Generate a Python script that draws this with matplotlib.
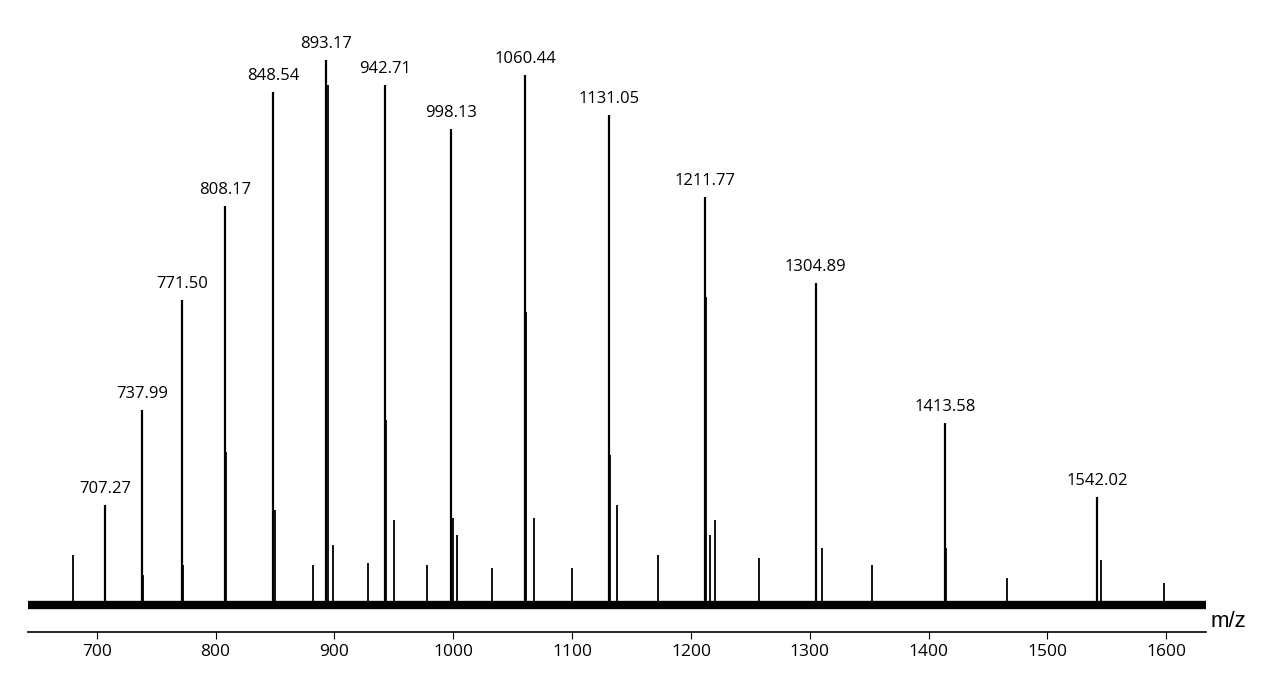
import matplotlib
matplotlib.use("Agg")
import matplotlib.pyplot as plt

# labelled peaks (m/z, relative height)
peak_mz = [707.27, 737.99, 771.50, 808.17, 848.54, 893.17, 942.71, 998.13,
           1060.44, 1131.05, 1211.77, 1304.89, 1413.58, 1542.02]
peak_h = [100, 195, 305, 399, 513, 545, 520, 476, 530, 490, 408, 322, 182, 108]
peak_labels = ["707.27", "737.99", "771.50", "808.17", "848.54", "893.17", "942.71",
               "998.13", "1060.44", "1131.05", "1211.77", "1304.89", "1413.58", "1542.02"]

# minor peaks
minor_mz = [680, 894.5, 943.5, 1061.2, 1132, 1212.6, 1305.6, 809, 772.3, 739, 850, 1000,
            1068, 1138, 1172, 1257, 1352, 1466, 1598, 950, 928, 882, 978, 1033, 1100,
            1415, 1545, 1220, 1310, 899, 1003, 1216]
minor_h = [50, 520, 185, 293, 150, 308, 223, 153, 40, 30, 95, 87,
           87, 100, 50, 47, 40, 27, 22, 85, 42, 40, 40, 37, 37,
           57, 45, 85, 57, 60, 70, 70]

fig = plt.figure(figsize=(12.65, 6.84), dpi=100)
ax = fig.add_axes([0.022, 0.076, 0.931, 0.864])
ax.set_xlim(642, 1633)
ax.set_ylim(-27, 564)

ax.axhline(0, color="black", lw=6, zorder=1)
ax.vlines(peak_mz, 0, peak_h, color="black", lw=1.6)
ax.vlines(minor_mz, 0, minor_h, color="black", lw=1.3)
for x, h, t in zip(peak_mz, peak_h, peak_labels):
    ax.text(x, h + 8, t, ha="center", va="bottom", fontsize=12, family="Open Sans")

for s in ["top", "right", "left"]:
    ax.spines[s].set_visible(False)
ax.spines["bottom"].set_linewidth(1.2)
ax.set_yticks([])
ax.set_xticks(range(700, 1700, 100))
ax.tick_params(axis="x", length=5, labelsize=12.5)
for lab in ax.get_xticklabels():
    lab.set_family("Open Sans")
fig.text(0.957, 0.076, "m/z", fontsize=16, ha="left", va="bottom", family="Liberation Sans")
fig.savefig("out.png")
